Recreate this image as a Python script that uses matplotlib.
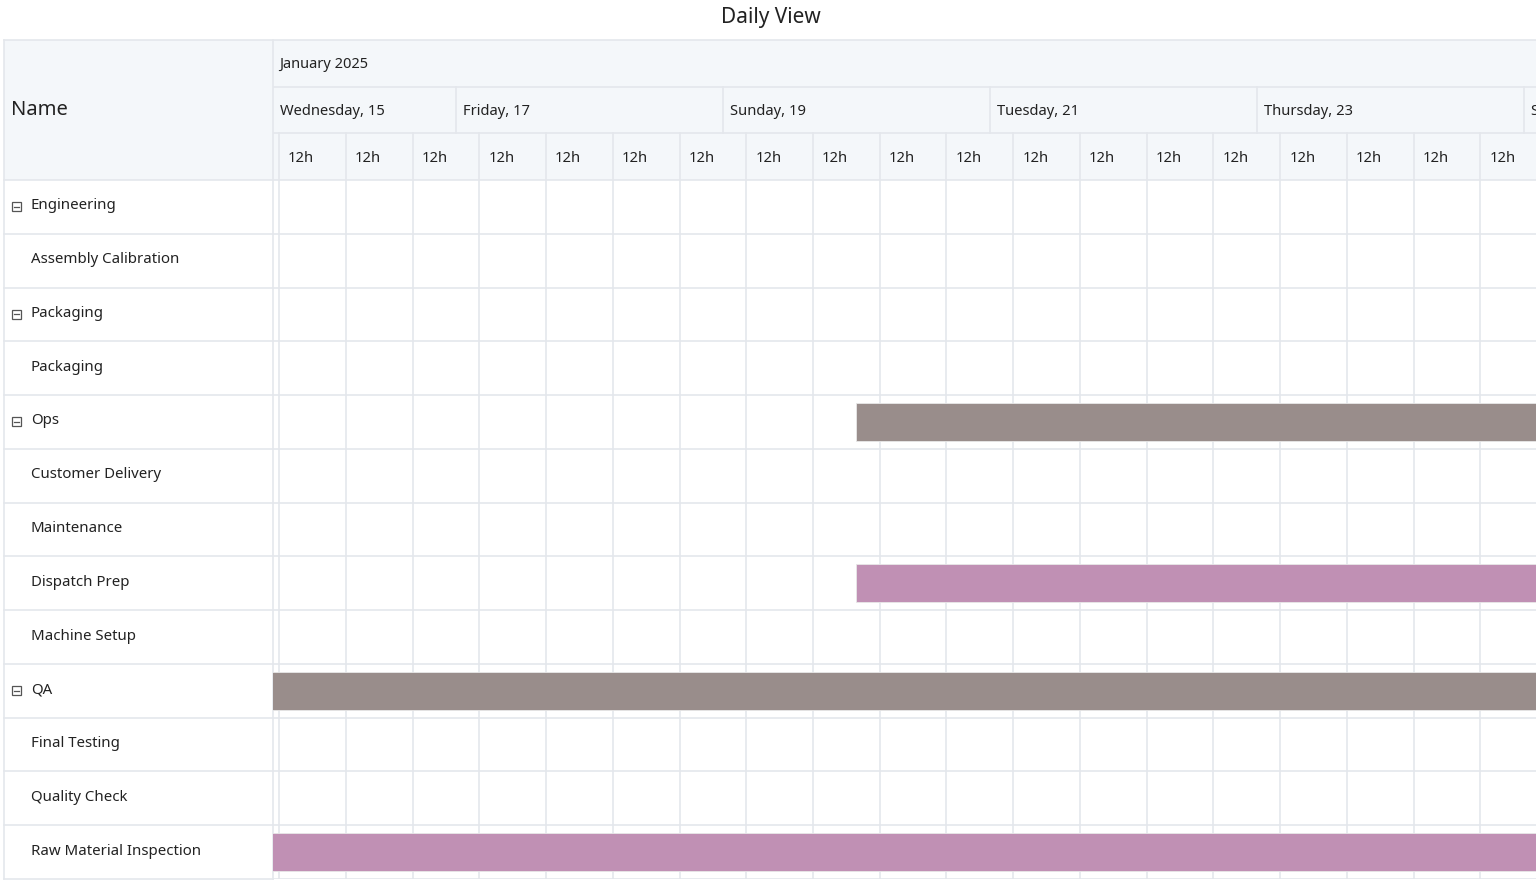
import pandas as pd
import matplotlib
matplotlib.use("Agg")
import matplotlib.pyplot as plt
from matplotlib.patches import Rectangle
from matplotlib.transforms import offset_copy

# rows of the grid, top to bottom
row_names = ["Engineering", "Assembly Calibration", "Packaging", "Packaging", "Ops",
             "Customer Delivery", "Maintenance", "Dispatch Prep", "Machine Setup", "QA",
             "Final Testing", "Quality Check", "Raw Material Inspection"]
row_is_group = [True, False, True, False, True, False, False, False, False, True,
                False, False, False]

# bars: row index, start, end
bar_rows = [4, 7, 9, 12]
bar_start = ["2025-01-20 00:00", "2025-01-20 00:00", "2025-01-13 00:00", "2025-01-13 00:00"]
bar_end = ["2025-01-28 00:00", "2025-01-28 00:00", "2025-01-28 00:00", "2025-01-28 00:00"]
bar_colors = ["#998D8B", "#C090B4", "#998D8B", "#C090B4"]

month_label = "January 2025"
day_dates = ["2025-01-15", "2025-01-17", "2025-01-19", "2025-01-21", "2025-01-23", "2025-01-25"]
view_start = "2025-01-15 15:06"
view_end = "2025-01-25 02:12"
tick_first = "2025-01-15 16:12"

origin = pd.Timestamp("2025-01-15")
def hrs(s):
    return (pd.Timestamp(s) - origin) / pd.Timedelta(hours=1)

x0, x1 = hrs(view_start), hrs(view_end)
tick_hours = []
t = hrs(tick_first)
while t < x1:
    tick_hours.append(t)
    t += 12
day_hours = [hrs(d) for d in day_dates]
day_labels = [pd.Timestamp(d).strftime("%A, ") + str(pd.Timestamp(d).day) for d in day_dates]

plt.rcParams['font.family'] = ['Noto Sans', 'DejaVu Sans']
W, H = 1536, 888
fig = plt.figure(figsize=(W / 100, H / 100), dpi=100)
fig.patch.set_facecolor("white")

grid_c = "#E4E7EC"
head_bg = "#F4F7FA"
txt_c = "#222222"

# overlay in pixel coordinates
ov = fig.add_axes([0, 0, 1, 1])
ov.set_xlim(0, W)
ov.set_ylim(H, 0)
ov.axis("off")

top, head_bot, bottom = 40, 180, 879
left, split = 4, 273
nrow = len(row_names)
rh = (bottom - head_bot) / nrow

ov.add_patch(Rectangle((left, top), W - left, head_bot - top, facecolor=head_bg,
                       edgecolor="none", zorder=0))
ov.text(771, 18, "Daily View", ha="center", va="center", fontsize=15, color=txt_c)
ov.text(11, 110, "Name", ha="left", va="center", fontsize=14.5, color=txt_c)

for i, (name, grp) in enumerate(zip(row_names, row_is_group)):
    cy = head_bot + (i + 0.5) * rh
    ov.text(31, cy - 1, name, ha="left", va="center", fontsize=10.8, color=txt_c)
    if grp:
        ov.add_patch(Rectangle((12, cy - 4.5), 9, 9, facecolor="none",
                               edgecolor="#555555", lw=0.9))
        ov.plot([14, 19], [cy, cy], color="#555555", lw=0.9)
    ov.plot([left, split], [head_bot + (i + 1) * rh] * 2, color=grid_c, lw=1.2)

ov.plot([left, W], [top, top], color=grid_c, lw=1.2)
ov.plot([left, W], [head_bot, head_bot], color=grid_c, lw=1.2)
ov.plot([left, left], [top, bottom], color=grid_c, lw=1.2)
ov.plot([split, split], [top, bottom], color=grid_c, lw=1.2)

# header of the timeline
hax = fig.add_axes([split / W, (H - head_bot) / H, (W - split) / W, (head_bot - top) / H])
hax.set_xlim(x0, x1)
hax.set_ylim(3, 0)
hax.axis("off")
hax.axhline(1, color=grid_c, lw=1.2)
hax.axhline(2, color=grid_c, lw=1.2)
hax.text(x0, 0.5, month_label,
         transform=offset_copy(hax.transData, fig, x=6, y=-1.5, units="dots"),
         ha="left", va="center", fontsize=10.5, color=txt_c)
for dh, dl in zip(day_hours, day_labels):
    hax.plot([dh, dh], [1, 2], color=grid_c, lw=1.2)
    lx = max(dh, x0)
    hax.text(lx, 1.5, dl, transform=offset_copy(hax.transData, fig, x=7, y=-1.5, units="dots"),
             ha="left", va="center", fontsize=10.6, color=txt_c, clip_on=True)
for th in tick_hours:
    hax.plot([th, th], [2, 3], color=grid_c, lw=1.2)
    hax.text(th, 2.5, "12h", transform=offset_copy(hax.transData, fig, x=9, y=-1.5, units="dots"),
             ha="left", va="center", fontsize=10.6, color=txt_c, clip_on=True)

# body of the timeline
ax = fig.add_axes([split / W, (H - bottom) / H, (W - split) / W, (bottom - head_bot) / H])
ax.set_xlim(x0, x1)
ax.set_ylim(nrow, 0)
ax.axis("off")
for th in tick_hours:
    ax.axvline(th, color=grid_c, lw=1.2, zorder=1)
for i in range(nrow):
    ax.axhline(i + 1, color=grid_c, lw=1.2, zorder=1)
for r, s, e, c in zip(bar_rows, bar_start, bar_end, bar_colors):
    ax.barh(r + 0.5, hrs(e) - hrs(s), left=hrs(s), height=0.71, color=c,
            edgecolor="#E8E8E8", lw=0.6, zorder=3)

fig.savefig("out.png", dpi=100, facecolor="white")
